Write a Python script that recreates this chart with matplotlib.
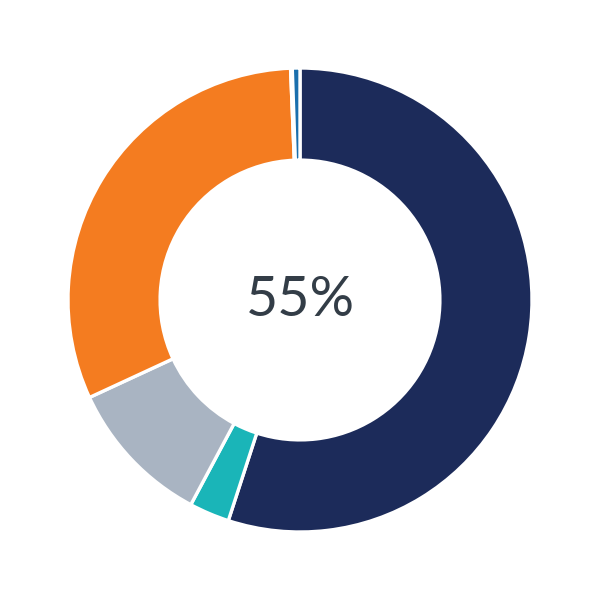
import matplotlib
matplotlib.use("Agg")
import matplotlib.pyplot as plt

labels = ["Navy", "Teal", "Gray", "Orange", "White", "Blue"]
values = [55.0, 2.8, 10.3, 31.25, 0.12, 0.53]
colors = ["#1c2b5a", "#1ab5b8", "#a9b4c2", "#f47c20", "#ffffff", "#1a6fad"]
center_text = "55%"

fig = plt.figure(figsize=(6, 6), dpi=100)
ax = fig.add_axes([0, 0, 1, 1])
ax.pie(values, colors=colors, startangle=90, counterclock=False, radius=1.0,
       wedgeprops=dict(width=0.397, edgecolor="white", linewidth=2.4))
lim = 300 / 232
ax.set_xlim(-lim, lim)
ax.set_ylim(-lim, lim)
ax.set_aspect("equal")
ax.axis("off")
ax.text(0, 0, center_text, ha="center", va="center", fontsize=40,
        color="#333d47", family=["Lato", "DejaVu Sans"])
fig.savefig("out.png", dpi=100, facecolor="white")
